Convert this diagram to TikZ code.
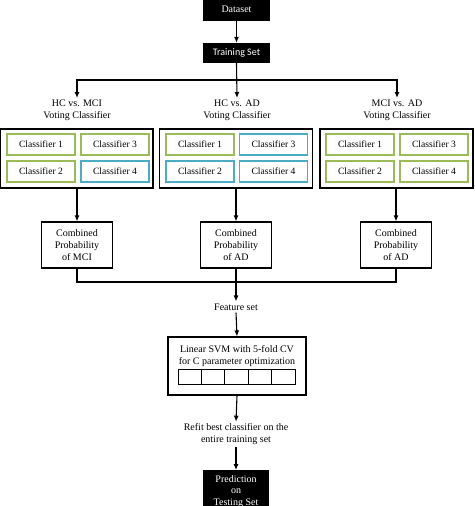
\documentclass[tikz,border=0pt]{standalone}
\usepackage{fontspec}
\setmainfont{Liberation Serif}
\newfontfamily\calib{Carlito}
\usetikzlibrary{arrows.meta}
\definecolor{clfgreen}{HTML}{9BBB59}
\definecolor{clfblue}{HTML}{4BACC6}
\tikzset{
  arr/.style={-{Latex[length=6pt,width=5pt]}, line width=1.1pt},
  blackbox/.style={fill=black, text=white, minimum width=67pt, minimum height=20pt, inner sep=1pt},
  outerbox/.style={draw, line width=1.2pt, minimum width=153pt, minimum height=59pt},
  clf/.style={draw, line width=1.2pt, minimum width=68pt, minimum height=21pt, inner sep=0pt, font=\fontsize{9.6}{11}\selectfont},
  probbox/.style={draw, line width=1.1pt, minimum width=71pt, minimum height=46pt, align=center, inner sep=1pt},
  plain/.style={align=center, inner sep=2pt}
}
\newcommand\clfbox[4]{\node[clf,draw=#3] at (#1,#2) {Classifier #4};}

\begin{document}
\begin{tikzpicture}[x=1pt,y=-1pt,font=\fontsize{10}{12}\selectfont]
\useasboundingbox (0,0) rectangle (474,506);
\node[blackbox, minimum height=22pt] (dataset) at (236.5,9.5) {Dataset};
\node[blackbox, font=\calib\fontsize{10}{12}\selectfont] (train) at (236.5,53) {Training Set};
\draw[arr] (dataset) -- (train);
% voting classifiers
\node[plain, anchor=north] (lab1) at (77,98) {HC vs. MCI\\Voting Classifier};
\node[plain, anchor=north] (lab2) at (237,98) {HC vs. AD\\Voting Classifier};
\node[plain, anchor=north] (lab3) at (397,98) {MCI vs. AD\\Voting Classifier};
\draw[arr] (train.south) |- (77,80) -- (lab1.north);
\draw[arr] (train.south) -- (lab2.north);
\draw[arr] (train.south) |- (397,80) -- (lab3.north);
\node[outerbox] (vc1) at (76.5,158.5) {};
\node[outerbox] (vc2) at (236,158.5) {};
\node[outerbox] (vc3) at (396.5,158.5) {};
\clfbox{41}{144.5}{clfgreen}{1}
\clfbox{115}{144.5}{clfgreen}{3}
\clfbox{41}{171.5}{clfgreen}{2}
\clfbox{115}{171.5}{clfblue}{4}
\clfbox{200}{144.5}{clfgreen}{1}
\clfbox{273.5}{144.5}{clfblue}{3}
\clfbox{200}{171.5}{clfblue}{2}
\clfbox{273.5}{171.5}{clfblue}{4}
\clfbox{360}{144.5}{clfgreen}{1}
\clfbox{434}{144.5}{clfgreen}{3}
\clfbox{360}{171.5}{clfgreen}{2}
\clfbox{434}{171.5}{clfgreen}{4}
% combined probabilities
\node[probbox] (cp1) at (77,245) {Combined\\Probability\\of MCI};
\node[probbox] (cp2) at (236,245) {Combined\\Probability\\of AD};
\node[probbox] (cp3) at (396,245) {Combined\\Probability\\of AD};
\draw[arr] (vc1.south -| cp1) -- (cp1.north);
\draw[arr] (vc2.south -| cp2) -- (cp2.north);
\draw[arr] (vc3.south -| cp3) -- (cp3.north);
\node[plain] (feat) at (236,307) {Feature set};
\draw[line width=1.1pt] (cp1.south) |- (236,282) -| (cp3.south);
\draw[arr] (cp2.south) -- (feat.north);
% svm
\node[draw, line width=1.1pt, minimum width=138pt, minimum height=58pt] (svm) at (237,366) {};
\node[plain] (svmtxt) at (237,356) {Linear SVM with 5-fold CV\\for C parameter optimization};
\foreach \i in {0,...,4}
  \draw[line width=0.9pt] (178+\i*23.4,369) rectangle ++(23.4,15);
\draw[arr] (feat.south) -- (svm.north);
\node[plain] (refit) at (236,434.5) {Refit best classifier on the\\entire training set};
\draw[arr] (svm.south) -- (refit.north);
\node[blackbox, anchor=north, minimum width=66pt, minimum height=42pt, align=center, inner sep=0.5pt, font=\fontsize{10}{11.5}\selectfont] (pred) at (236,470) {Prediction\\on\\Testing Set};
\draw[arr] (refit.south) -- (pred.north);
\end{tikzpicture}
\end{document}
